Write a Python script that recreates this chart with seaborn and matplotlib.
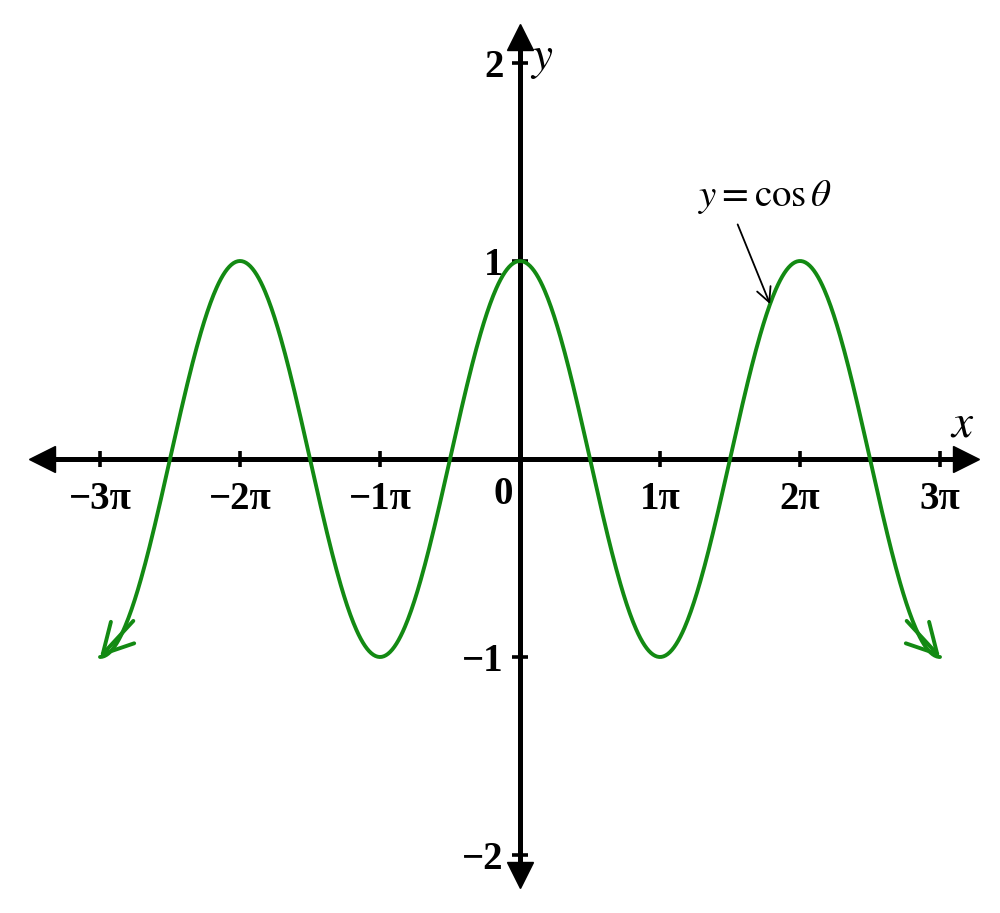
import numpy as np
import pandas as pd
import seaborn as sns
import matplotlib.pyplot as plt

sns.set_style("white")
plt.rcParams['font.family'] = ['Liberation Serif', 'DejaVu Serif']
plt.rcParams['mathtext.fontset'] = 'stix'
plt.rcParams['text.color'] = 'black'

PI = np.pi

# data
x_tick_mult = [-3, -2, -1, 1, 2, 3]
x_tick_labels = ['\u22123\u03c0', '\u22122\u03c0', '\u22121\u03c0', '1\u03c0', '2\u03c0', '3\u03c0']
y_ticks = [-2, -1, 1, 2]
y_tick_labels = ['\u22122', '\u22121', '1', '2']
theta_start, theta_end = -3 * PI, 3 * PI

theta = np.linspace(theta_start, theta_end, 800)
df = pd.DataFrame({'theta': theta, 'y': np.cos(theta)})

green = '#138a13'
px = PI / 140  # data units per pixel along x
py = 1 / 198   # data units per pixel along y

fig = plt.figure(figsize=(10, 9.13), dpi=100)
ax = fig.add_axes([0, 0, 1, 1])
ax.set_xlim(-520 * px, 480 * px)
ax.set_ylim(-454 * py, 459 * py)

# curve
sns.lineplot(data=df, x='theta', y='y', color=green, linewidth=2.8, ax=ax, sort=False, zorder=3)
for end, off in [(theta_start, (24, 26)), (theta_end, (-24, 26))]:
    ax.annotate('', xy=(end, np.cos(end)), xytext=off, textcoords='offset points',
                arrowprops=dict(arrowstyle='->,head_length=0.7,head_width=0.38', color=green,
                                lw=2.8, mutation_scale=30, shrinkA=0, shrinkB=0))

# axes through origin
x_lo, x_hi = -490 * px, 458 * px
y_lo, y_hi = -428 * py, 434 * py
for s in ['top', 'right']:
    ax.spines[s].set_visible(False)
ax.spines['left'].set_position('zero')
ax.spines['bottom'].set_position('zero')
ax.spines['bottom'].set_bounds(x_lo + 10 * px, x_hi - 10 * px)
ax.spines['left'].set_bounds(y_lo + 10 * py, y_hi - 10 * py)
for s in ['left', 'bottom']:
    ax.spines[s].set_linewidth(3.6)
    ax.spines[s].set_color('black')

ms = 19
ax.plot(x_lo + 12 * px, 0, marker='<', ms=ms, color='black', clip_on=False)
ax.plot(x_hi - 12 * px, 0, marker='>', ms=ms, color='black', clip_on=False)
ax.plot(0, y_hi - 12 * py, marker='^', ms=ms, color='black', clip_on=False)
ax.plot(0, y_lo + 12 * py, marker='v', ms=ms, color='black', clip_on=False)

ax.set_xticks([m * PI for m in x_tick_mult])
ax.set_xticklabels(x_tick_labels)
ax.set_yticks(y_ticks)
ax.set_yticklabels(y_tick_labels)
ax.tick_params(axis='both', bottom=True, left=True, direction='inout', length=12,
               width=2.6, color='black', labelcolor='black', labelsize=28, pad=6)
ax.tick_params(axis='x', pad=10)
for lab in ax.get_xticklabels() + ax.get_yticklabels():
    lab.set_fontweight('bold')
ax.set_xlabel('')
ax.set_ylabel('')

ax.annotate('0', xy=(0, 0), xytext=(-5, -12), textcoords='offset points',
            ha='right', va='top', fontsize=28, fontweight='bold')
ax.text(22 * px, 399 * py, '$\\mathbf{\\mathit{y}}$', fontsize=34, ha='center', va='center')
ax.text(442 * px, 34 * py, '$\\mathbf{\\mathit{x}}$', fontsize=34, ha='center', va='center')

# label for the curve
ax.annotate('$y = \\mathrm{cos}\\,\\theta$', xy=(1.786 * PI, np.cos(1.786 * PI)),
            xytext=(245 * px, 262 * py), ha='center', va='center', fontsize=28,
            arrowprops=dict(arrowstyle='->', color='black', lw=1.3, mutation_scale=26,
                            shrinkA=4, shrinkB=0, relpos=(0.27, 0.0)))

fig.savefig('out.png', dpi=100)
